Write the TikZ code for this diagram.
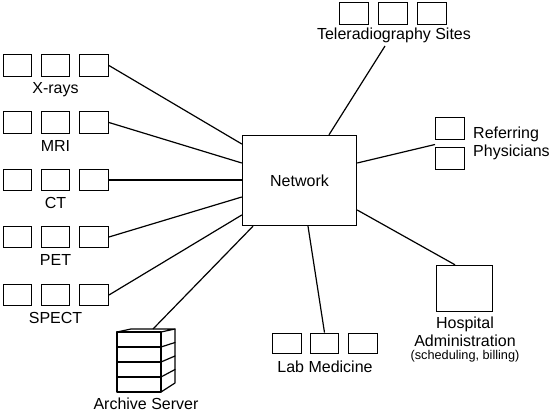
\documentclass[tikz,border=0pt]{standalone}
\usepackage{fontspec}
\setmainfont{Liberation Sans}
\usetikzlibrary{calc}
\begin{document}
\begin{tikzpicture}[x=1pt,y=-1pt,
  unit/.style={draw,line width=1.4pt,minimum width=28.5pt,minimum height=21.5pt,inner sep=0pt},
  link/.style={line width=1.2pt},
  lbl/.style={font=\fontsize{16}{19}\selectfont,inner sep=0pt,anchor=base},
  small/.style={font=\fontsize{12.7}{15}\selectfont,inner sep=0pt,anchor=base}]
\useasboundingbox (0,0) rectangle (552,412);

% Network
\node[draw,line width=1.4pt,minimum width=114pt,minimum height=90pt,inner sep=0pt,
      font=\fontsize{16}{19}\selectfont] (net) at (299.5,180.5) {Network};

% left modality groups
\foreach \n/\t/\y/\o in {xr/X-rays/65.5/-36.5, mri/MRI/122.5/-17.5, ct/CT/180/-0.5, pet/PET/237/16.5, spect/SPECT/295/34.5}{
  \node[unit] (\n1) at (17.5,\y) {};
  \node[unit] (\n2) at (55.5,\y) {};
  \node[unit] (\n3) at (94,\y) {};
  \node[lbl] (\n l) at (55.5,\y+28.5) {\t};
  \draw[link] (\n3.east) -- ($(net.west)+(0,\o)$);
}

% Teleradiography
\node[unit] (tr1) at (354,13.5) {};
\node[unit] (tr2) at (393,13.5) {};
\node[unit] (tr3) at (432,13.5) {};
\node[lbl] (trl) at (394,40) {Teleradiography Sites};
\coordinate (trc) at (385,46);
\draw[link] (trc) -- ($(net.north)+(29.5,0)$);

% Referring physicians
\node[unit] (rp1) at (450,128.5) {};
\node[unit] (rp2) at (450,158.5) {};
\node[lbl,anchor=base west] (rpl1) at (473,138) {Referring};
\node[lbl,anchor=base west] (rpl2) at (473,157) {Physicians};
\coordinate (rpc) at (435,144.5);
\draw[link] ($(net.east)+(0,-17.5)$) -- (rpc);

% Hospital administration
\node[draw,line width=1.4pt,minimum width=56pt,minimum height=46pt,inner sep=0pt] (hosp) at (464.5,288.5) {};
\node[lbl] (hl1) at (465,328) {Hospital};
\node[lbl] (hl2) at (465,346) {Administration};
\node[small] (hl3) at (465,359.5) {(scheduling, billing)};
\draw[link] ($(net.east)+(0,29.5)$) -- ($(hosp.north)+(-9.5,0)$);

% Lab medicine
\node[unit,minimum height=20.5pt] (lab1) at (287,343.5) {};
\node[unit,minimum height=20.5pt] (lab2) at (324.5,343.5) {};
\node[unit,minimum height=20.5pt] (lab3) at (363,343.5) {};
\node[lbl] (labl) at (325,372) {Lab Medicine};
\draw[link] ($(net.south)+(8.5,0)$) -- (lab2.north);

% Archive server
\begin{scope}[line width=1.2pt, line join=round, line cap=round]
  \draw (117,332) rectangle (161,392);
  \draw (117,332) -- (131,329) -- (175,329) -- (161,332);
  \draw (175,329) -- (175,383) -- (161,392);
  \draw (161,347) -- (175,342.5);
  \draw (161,362) -- (175,356);
  \draw (161,377) -- (175,369.5);
  \draw (117,347) -- (161,347);
  \draw (117,362) -- (161,362);
  \draw (117,377) -- (161,377);
\end{scope}
\coordinate (srv) at (153,329);
\node[lbl] (srvl) at (146,409) {Archive Server};
\draw[link] (srv) -- ($(net.south)+(-46.5,0)$);
\end{tikzpicture}
\end{document}
